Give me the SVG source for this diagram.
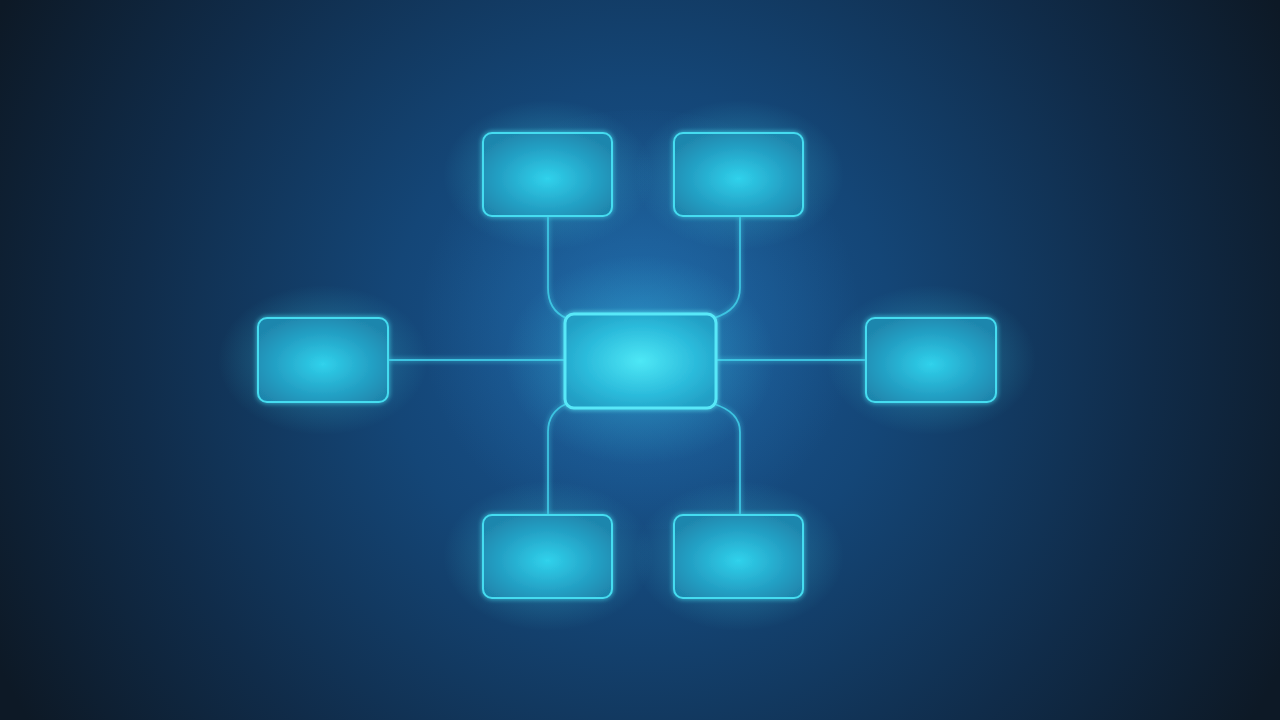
<svg xmlns="http://www.w3.org/2000/svg" width="1280" height="720" viewBox="0 0 1280 720">
<defs>
<radialGradient id="bg" cx="640" cy="340" r="720" gradientUnits="userSpaceOnUse">
<stop offset="0" stop-color="#1b5896"/>
<stop offset="0.35" stop-color="#144677"/>
<stop offset="0.7" stop-color="#102c4a"/>
<stop offset="1" stop-color="#0d1926"/>
</radialGradient>
<radialGradient id="halo" cx="640" cy="320" r="220" gradientUnits="userSpaceOnUse">
<stop offset="0" stop-color="#2b8fd0" stop-opacity="0.4"/>
<stop offset="1" stop-color="#2b8fd0" stop-opacity="0"/>
</radialGradient>
<radialGradient id="nodefill" cx="0.5" cy="0.55" r="0.6">
<stop offset="0" stop-color="#30d2ec"/>
<stop offset="0.6" stop-color="#24a2c6"/>
<stop offset="1" stop-color="#1f86ad"/>
</radialGradient>
<radialGradient id="centerfill" cx="0.5" cy="0.5" r="0.6">
<stop offset="0" stop-color="#4ee8f6"/>
<stop offset="0.6" stop-color="#2cbcdc"/>
<stop offset="1" stop-color="#229ec4"/>
</radialGradient>
<radialGradient id="nodeglow" cx="0.5" cy="0.5" r="0.5">
<stop offset="0" stop-color="#3fd8f2" stop-opacity="0.4"/>
<stop offset="1" stop-color="#3fd8f2" stop-opacity="0"/>
</radialGradient>
<filter id="glow" x="-30%" y="-30%" width="160%" height="160%">
<feGaussianBlur in="SourceGraphic" stdDeviation="2.5" result="b"/>
<feMerge><feMergeNode in="b"/><feMergeNode in="SourceGraphic"/></feMerge>
</filter>
</defs>
<style>
.node{fill:url(#nodefill);stroke:#44dcf0;stroke-width:2}
.center{fill:url(#centerfill);stroke:#58e8f8;stroke-width:3}
.conn{fill:none;stroke:#3cc2e0;stroke-width:1.8}
</style>
<rect width="1280" height="720" fill="url(#bg)"/>
<ellipse cx="640" cy="320" rx="250" ry="210" fill="url(#halo)"/>
<g id="connectors" filter="url(#glow)">
<path class="conn" d="M548 216 V288 Q548 310 566 318"/>
<path class="conn" d="M740 216 V288 Q740 310 714 318"/>
<path class="conn" d="M566 404 Q548 412 548 432 V515"/>
<path class="conn" d="M714 404 Q740 412 740 432 V515"/>
<path class="conn" d="M388 360 H564"/>
<path class="conn" d="M716 360 H866"/>
</g>
<g id="node-top-left">
<ellipse cx="548" cy="175" rx="105" ry="75" fill="url(#nodeglow)"/>
<rect class="node" x="483" y="133" width="129" height="83" rx="9" filter="url(#glow)"/>
</g>
<g id="node-top-right">
<ellipse cx="739" cy="175" rx="105" ry="75" fill="url(#nodeglow)"/>
<rect class="node" x="674" y="133" width="129" height="83" rx="9" filter="url(#glow)"/>
</g>
<g id="node-left">
<ellipse cx="323" cy="360" rx="105" ry="75" fill="url(#nodeglow)"/>
<rect class="node" x="258" y="318" width="130" height="84" rx="9" filter="url(#glow)"/>
</g>
<g id="node-right">
<ellipse cx="931" cy="360" rx="105" ry="75" fill="url(#nodeglow)"/>
<rect class="node" x="866" y="318" width="130" height="84" rx="9" filter="url(#glow)"/>
</g>
<g id="node-bottom-left">
<ellipse cx="548" cy="556" rx="105" ry="75" fill="url(#nodeglow)"/>
<rect class="node" x="483" y="515" width="129" height="83" rx="9" filter="url(#glow)"/>
</g>
<g id="node-bottom-right">
<ellipse cx="739" cy="556" rx="105" ry="75" fill="url(#nodeglow)"/>
<rect class="node" x="674" y="515" width="129" height="83" rx="9" filter="url(#glow)"/>
</g>
<g id="node-center">
<ellipse cx="640" cy="360" rx="135" ry="105" fill="url(#nodeglow)"/>
<rect class="center" x="565" y="314" width="151" height="94" rx="9" filter="url(#glow)"/>
</g>
</svg>
